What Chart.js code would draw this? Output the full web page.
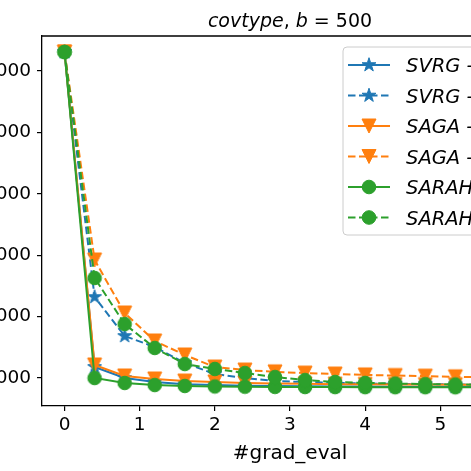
<!DOCTYPE html>
<html>
<head>
<meta charset="utf-8">
<script src="https://cdn.jsdelivr.net/npm/chart.js@4.4.1/dist/chart.umd.min.js"></script>
<style>
html, body { margin: 0; padding: 0; background: #fff; overflow: hidden; }
#wrap { position: absolute; left: -60px; top: 0; width: 620px; height: 471px; }
</style>
</head>
<body>
<div id="wrap"><canvas id="covtype_chart" width="620" height="471"></canvas></div>
<script>
// x values: number of gradient evaluations (in epochs)
const grad_eval = [0, 0.4, 0.8, 1.2, 1.6, 2.0, 2.4, 2.8, 3.2, 3.6, 4.0, 4.4, 4.8, 5.2, 5.6, 6.0];

const svrg_solid   = [6309, 1180, 1000, 935, 900, 885, 875, 870, 865, 862, 860, 858, 856, 855, 854, 853];
const svrg_dashed  = [6309, 2319, 1684, 1505, 1244, 1065, 1000, 950, 935, 920, 910, 905, 900, 895, 892, 890];
const saga_solid   = [6309, 1212, 1033, 984, 951, 935, 920, 910, 905, 900, 897, 895, 893, 892, 891, 890];
const saga_dashed  = [6309, 2922, 2059, 1603, 1375, 1179, 1130, 1100, 1080, 1065, 1050, 1040, 1030, 1020, 1010, 1000];
const sarah_solid  = [6309, 1000, 919, 886, 870, 862, 858, 855, 853, 852, 851, 850, 850, 849, 849, 848];
const sarah_dashed = [6309, 2629, 1879, 1489, 1228, 1147, 1081, 1016, 967, 935, 920, 910, 900, 895, 890, 885];

const series_labels = ["SVRG - constant", "SVRG - BB", "SAGA - constant", "SAGA - BB", "SARAH - constant", "SARAH - BB"];

const x_ticks = [0, 1, 2, 3, 4, 5, 6];
const y_ticks = [1000, 2000, 3000, 4000, 5000, 6000];

const blue = "#1f77b4";
const orange = "#ff7f0e";
const green = "#2ca02c";
const dash = [7.5, 3.5];

function drawMarker(ctx, shape, x, y, color)
{
    ctx.save();
    ctx.setLineDash([]);
    ctx.fillStyle = color;
    ctx.strokeStyle = color;
    ctx.lineWidth = 1;
    ctx.beginPath();
    if (shape === "star")
    {
        const R = 7.3, r = R * 0.382;
        for (let i = 0; i < 10; i++)
        {
            const a = -Math.PI / 2 + i * Math.PI / 5;
            const rad = i % 2 ? r : R;
            ctx.lineTo(x + rad * Math.cos(a), y + rad * Math.sin(a));
        }
    }
    else if (shape === "tri")
    {
        ctx.moveTo(x, y + 7);
        ctx.lineTo(x - 7, y - 7);
        ctx.lineTo(x + 7, y - 7);
    }
    else
    {
        ctx.arc(x, y, 6.8, 0, 2 * Math.PI);
    }
    ctx.closePath();
    ctx.fill();
    ctx.stroke();
    ctx.restore();
}

function makeMarker(shape, color)
{
    const c = document.createElement("canvas");
    c.width = 18;
    c.height = 18;
    drawMarker(c.getContext("2d"), shape, 9, 9, color);
    return c;
}

const styles =
[
    { color: blue, shape: "star", dashed: false },
    { color: blue, shape: "star", dashed: true },
    { color: orange, shape: "tri", dashed: false },
    { color: orange, shape: "tri", dashed: true },
    { color: green, shape: "circle", dashed: false },
    { color: green, shape: "circle", dashed: true }
];
const all_series = [svrg_solid, svrg_dashed, saga_solid, saga_dashed, sarah_solid, sarah_dashed];

const datasets = all_series.map((values, i) => ({
    label: series_labels[i],
    data: values.map((v, j) => ({ x: grad_eval[j], y: v })),
    borderColor: styles[i].color,
    backgroundColor: styles[i].color,
    borderWidth: 2,
    borderDash: styles[i].dashed ? dash : [],
    pointStyle: makeMarker(styles[i].shape, styles[i].color),
    pointRadius: 7,
    tension: 0,
    order: all_series.length - i
}));

const title_plugin =
{
    id: "title_plugin",
    afterDraw(chart)
    {
        const ctx = chart.ctx;
        const area = chart.chartArea;
        const parts =
        [
            ["covtype", "italic 19px 'DejaVu Sans'"],
            [", ", "19px 'DejaVu Sans'"],
            ["b", "italic 19px 'DejaVu Sans'"],
            [" = 500", "19px 'DejaVu Sans'"]
        ];
        ctx.save();
        let total = 0;
        parts.forEach(p => { ctx.font = p[1]; total += ctx.measureText(p[0]).width; });
        let x = (area.left + area.right) / 2 - total / 2;
        ctx.fillStyle = "#000";
        ctx.textBaseline = "alphabetic";
        parts.forEach(p =>
        {
            ctx.font = p[1];
            ctx.fillText(p[0], x, 27);
            x += ctx.measureText(p[0]).width;
        });

        // top and right spines
        ctx.strokeStyle = "#000";
        ctx.lineWidth = 1.3;
        ctx.beginPath();
        ctx.moveTo(area.left, area.top);
        ctx.lineTo(area.right, area.top);
        ctx.lineTo(area.right, area.bottom);
        ctx.stroke();
        ctx.restore();
    }
};

const legend_plugin =
{
    id: "legend_plugin",
    afterDraw(chart)
    {
        const ctx = chart.ctx;
        const lx = chart.chartArea.left + 301;
        const ly = 47;
        ctx.save();
        ctx.fillStyle = "rgba(255,255,255,0.8)";
        ctx.strokeStyle = "#cccccc";
        ctx.lineWidth = 1;
        ctx.beginPath();
        ctx.roundRect(lx, ly, 220, 188, 4);
        ctx.fill();
        ctx.stroke();
        series_labels.forEach((label, i) =>
        {
            const y = 65 + i * 30.5;
            ctx.strokeStyle = styles[i].color;
            ctx.lineWidth = 2;
            ctx.setLineDash(styles[i].dashed ? dash : []);
            ctx.beginPath();
            ctx.moveTo(lx + 5, y);
            ctx.lineTo(lx + 47, y);
            ctx.stroke();
            drawMarker(ctx, styles[i].shape, lx + 26, y, styles[i].color);
            ctx.fillStyle = "#000";
            ctx.font = "italic 19.5px 'DejaVu Sans'";
            ctx.textBaseline = "alphabetic";
            ctx.fillText(label, lx + 63, y + 7);
        });
        ctx.restore();
    }
};

const covtype_chart = new Chart("covtype_chart",
{
    type: "line",
    data:
    {
        datasets: datasets
    },
    plugins: [title_plugin, legend_plugin],
    options:
    {
        animation: false,
        responsive: false,
        layout:
        {
            padding: { top: 36, right: 22, left: 0, bottom: 0 }
        },
        plugins:
        {
            legend: { display: false },
            title: { display: false },
            tooltip: { enabled: false }
        },
        scales:
        {
            x:
            {
                type: "linear",
                min: -0.3,
                max: 6.3,
                afterBuildTicks: (s) => { s.ticks = x_ticks.map(v => ({ value: v })); },
                afterFit: (s) => { s.height = 65; },
                grid: { drawOnChartArea: false, drawTicks: true, tickLength: 5, color: "#000", lineWidth: 1.2 },
                border: { display: true, color: "#000", width: 1.3 },
                ticks:
                {
                    color: "#000",
                    padding: 3,
                    maxRotation: 0,
                    font: { family: "DejaVu Sans", size: 18.5 },
                    callback: (v) => String(v)
                },
                title:
                {
                    display: true,
                    text: "#grad_eval",
                    color: "#000",
                    padding: { top: 0, bottom: 5 },
                    font: { family: "DejaVu Sans", size: 20 }
                }
            },
            y:
            {
                type: "linear",
                min: 544,
                max: 6570,
                afterBuildTicks: (s) => { s.ticks = y_ticks.map(v => ({ value: v })); },
                afterFit: (s) => { s.width = 102; },
                grid: { drawOnChartArea: false, drawTicks: true, tickLength: 5, color: "#000", lineWidth: 1.2 },
                border: { display: true, color: "#000", width: 1.3 },
                ticks:
                {
                    color: "#000",
                    padding: 6,
                    font: { family: "DejaVu Sans", size: 18.5 },
                    callback: (v) => String(v)
                }
            }
        }
    }
});
</script>
</body>
</html>
